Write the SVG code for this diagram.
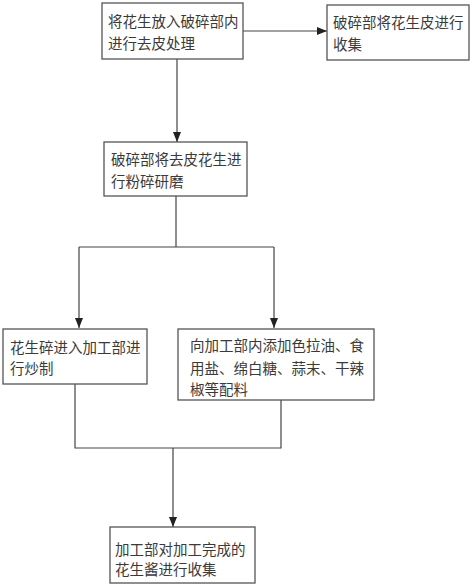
<svg xmlns="http://www.w3.org/2000/svg" width="474" height="588" viewBox="0 0 474 588">
<style>
.box{fill:#fff;stroke:#555;stroke-width:1.3}
.t{font-family:"Noto Sans CJK SC","Noto Sans CJK JP",sans-serif;font-size:14.5px;fill:#3a3a3a}
.c{fill:none;stroke:#444;stroke-width:1.2}
</style>
<defs>
<marker id="ah" viewBox="0 0 10 8" refX="10" refY="4" markerWidth="10" markerHeight="8" markerUnits="userSpaceOnUse" orient="auto">
<path d="M0,0 L10,4 L0,8 Z" fill="#222"/>
</marker>
</defs>
<rect width="474" height="588" fill="#fff"/>
<g id="connectors">
<line class="c" x1="243" y1="31" x2="327" y2="31" marker-end="url(#ah)"/>
<line class="c" x1="177" y1="59" x2="177" y2="142" marker-end="url(#ah)"/>
<polyline class="c" points="176,196 176,247"/>
<polyline class="c" points="79,247 274,247"/>
<line class="c" x1="79" y1="247" x2="79" y2="328" marker-end="url(#ah)"/>
<line class="c" x1="274" y1="247" x2="274" y2="328" marker-end="url(#ah)"/>
<polyline class="c" points="75,384 75,448 281,448 281,400"/>
<line class="c" x1="173" y1="448" x2="173" y2="527" marker-end="url(#ah)"/>
</g>
<g id="n1">
<rect class="box" x="102" y="3" width="141" height="56"/>
<text class="t" x="108" y="26.5">将花生放入破碎部内</text>
<text class="t" x="108" y="48.5">进行去皮处理</text>
</g>
<g id="n2">
<rect class="box" x="327" y="5" width="142" height="55"/>
<text class="t" x="333" y="27.5">破碎部将花生皮进行</text>
<text class="t" x="333" y="50">收集</text>
</g>
<g id="n3">
<rect class="box" x="104" y="142" width="143" height="54"/>
<text class="t" x="111" y="164.5">破碎部将去皮花生进</text>
<text class="t" x="111" y="186.5">行粉碎研磨</text>
</g>
<g id="n4">
<rect class="box" x="3" y="329" width="144" height="55"/>
<text class="t" x="10" y="352.5">花生碎进入加工部进</text>
<text class="t" x="10" y="373.5">行炒制</text>
</g>
<g id="n5">
<rect class="box" x="178" y="329" width="196" height="71"/>
<text class="t" x="190" y="351">向加工部内添加色拉油、食</text>
<text class="t" x="190" y="373.5">用盐、绵白糖、蒜末、干辣</text>
<text class="t" x="190" y="395">椒等配料</text>
</g>
<g id="n6">
<rect class="box" x="110" y="527" width="145" height="56"/>
<text class="t" x="115" y="554.5">加工部对加工完成的</text>
<text class="t" x="115" y="575">花生酱进行收集</text>
</g>
</svg>
